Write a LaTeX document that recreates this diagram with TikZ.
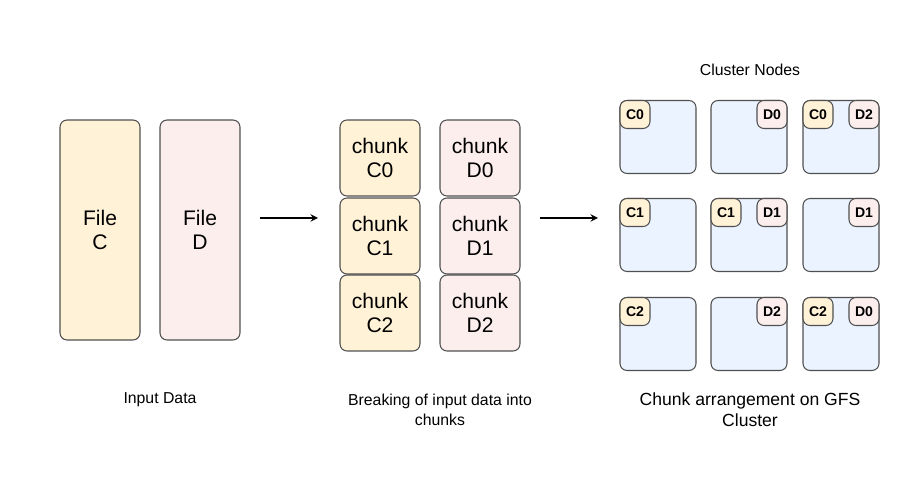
\documentclass[tikz,border=0pt]{standalone}
\usepackage{fontspec}
\setmainfont{Liberation Sans}
\usepackage{tikz}
\usetikzlibrary{positioning}
\definecolor{cyel}{HTML}{FFF2D6}
\definecolor{cpink}{HTML}{FDEEEE}
\definecolor{cblue}{HTML}{EAF3FF}
\definecolor{cedge}{HTML}{505050}
\tikzset{
  box/.style={draw=cedge, rounded corners=4pt, line width=0.6pt, inner sep=0pt, align=center},
  file/.style={box, minimum width=1.6cm, minimum height=4.4cm, font=\large},
  chunk/.style={box, minimum width=1.6cm, minimum height=1.52cm, font=\large},
  node/.style={box, fill=cblue, minimum width=1.52cm, minimum height=1.46cm},
  tag/.style={box, minimum width=0.6cm, minimum height=0.56cm, font=\footnotesize\bfseries},
  caption/.style={align=center, font=\small}
}
\begin{document}
\begin{tikzpicture}[x=0.02cm, y=-0.02cm, >=stealth]
    \useasboundingbox (0,0) rectangle (920,482);

    % input files
    \node[file, fill=cyel] (fileC) at (100,230) {File\\C};
    \node[file, fill=cpink] (fileD) at (200,230) {File\\D};

    % chunks
    \foreach \i/\y in {0/158,1/236,2/313} {
        \node[chunk, fill=cyel] (chunkC\i) at (380,\y) {chunk\\C\i};
        \node[chunk, fill=cpink] (chunkD\i) at (480,\y) {chunk\\D\i};
    }

    % arrows
    \coordinate (a1s) at (260,218);
    \coordinate (a1e) at (318,218);
    \coordinate (a2s) at (540,218);
    \coordinate (a2e) at (598,218);
    \draw[->, line width=0.9pt] (a1s) -- (a1e);
    \draw[->, line width=0.9pt] (a2s) -- (a2e);

    % cluster nodes
    \foreach \r/\y in {1/137,2/235,3/334} {
        \foreach \c/\x in {1/658,2/749,3/841} {
            \node[node] (n\r\c) at (\x,\y) {};
        }
    }
    \node[tag, fill=cyel, anchor=north west] (t11) at (n11.north west) {C0};
    \node[tag, fill=cpink, anchor=north east] (t12) at (n12.north east) {D0};
    \node[tag, fill=cyel, anchor=north west] (t13a) at (n13.north west) {C0};
    \node[tag, fill=cpink, anchor=north east] (t13b) at (n13.north east) {D2};
    \node[tag, fill=cyel, anchor=north west] (t21) at (n21.north west) {C1};
    \node[tag, fill=cyel, anchor=north west] (t22a) at (n22.north west) {C1};
    \node[tag, fill=cpink, anchor=north east] (t22b) at (n22.north east) {D1};
    \node[tag, fill=cpink, anchor=north east] (t23) at (n23.north east) {D1};
    \node[tag, fill=cyel, anchor=north west] (t31) at (n31.north west) {C2};
    \node[tag, fill=cpink, anchor=north east] (t32) at (n32.north east) {D2};
    \node[tag, fill=cyel, anchor=north west] (t33a) at (n33.north west) {C2};
    \node[tag, fill=cpink, anchor=north east] (t33b) at (n33.north east) {D0};

    % captions
    \node[caption] (capIn) at (160,400) {Input Data};
    \node[caption] (capBreak) at (440,410) {Breaking of input data into\\chunks};
    \node[caption, font=\normalsize] (capGFS) at (750,410) {Chunk arrangement on GFS\\Cluster};
    \node[caption] (capNodes) at (750,70) {Cluster Nodes};
\end{tikzpicture}
\end{document}
